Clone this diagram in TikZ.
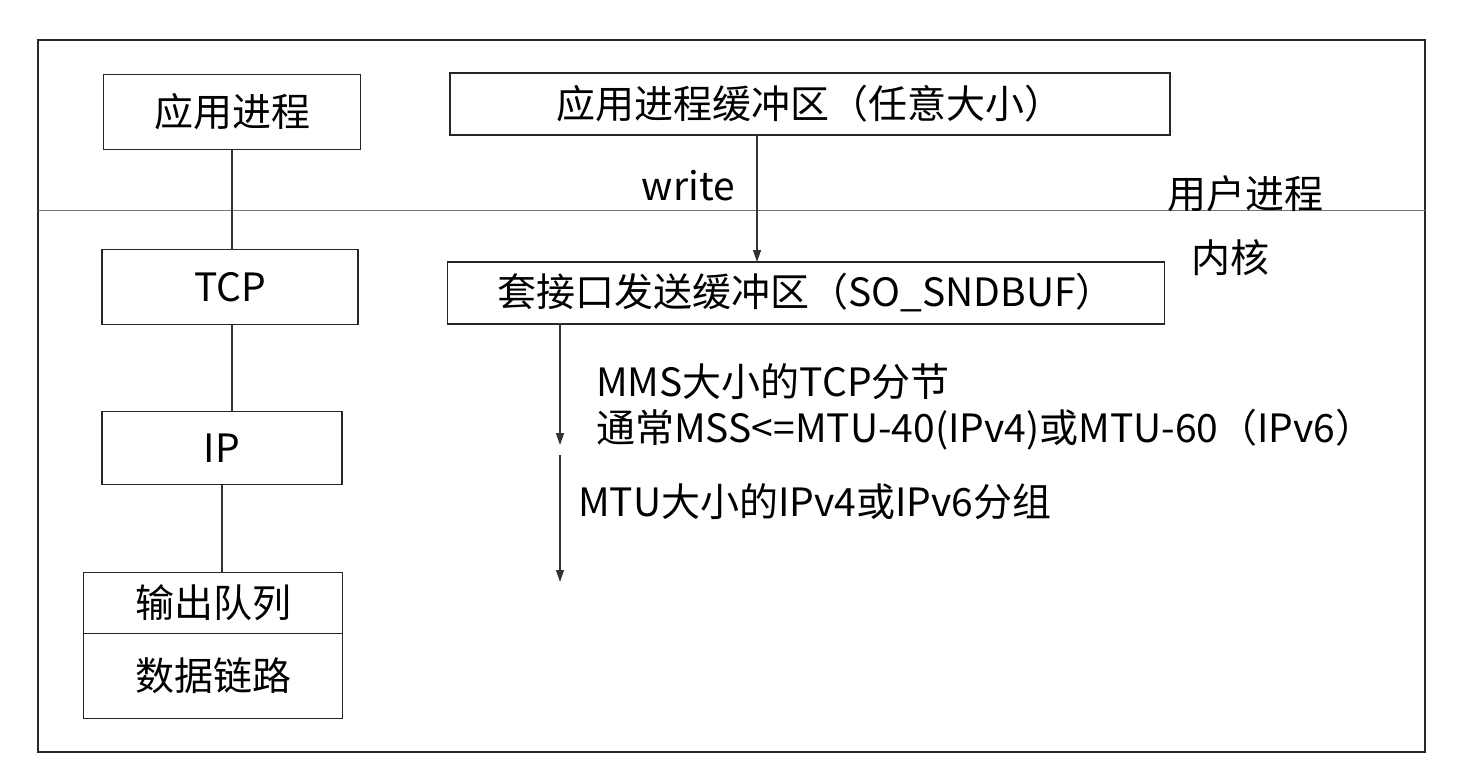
\documentclass[tikz,border=0pt]{standalone}
\usepackage{fontspec}
\setmainfont{Noto Sans CJK SC}
\usetikzlibrary{arrows.meta}
\begin{document}
\begin{tikzpicture}[x=1pt,y=-1pt,
  bx/.style={draw=black!85,line width=1.6pt,inner sep=0pt},
  lbl/.style={font=\fontsize{39}{44}\selectfont,inner sep=0pt},
  ln/.style={draw=black!80,line width=1.3pt},
  ar/.style={ln,-{Triangle[length=12pt,width=8pt]}}]
\useasboundingbox (0,0) rectangle (1467,779);
\fill[white] (0,0) rectangle (1467,779);
\draw[line width=1.8pt,black!85] (38,40) rectangle (1425,752);
\draw[line width=1pt,black!55] (38,210) -- (1425,210);
\node[bx,minimum width=257pt,minimum height=75pt,lbl] (app) at (232,112) {应用进程};
\node[bx,minimum width=256pt,minimum height=75pt,lbl] (tcp) at (230,287) {TCP};
\node[bx,minimum width=240pt,minimum height=73pt,lbl] (ip) at (222,448) {IP};
\node[bx,minimum width=259pt,minimum height=61pt,lbl] (q) at (213,603) {输出队列};
\node[bx,minimum width=259pt,minimum height=85pt,lbl] (dl) at (213,676) {数据链路};
\node[bx,minimum width=720pt,minimum height=62pt,lbl] (ab) at (810,104) {应用进程缓冲区（任意大小）};
\node[bx,minimum width=717pt,minimum height=62pt,lbl] (sb) at (806,293) {套接口发送缓冲区（SO\_SNDBUF）};
\draw[ln] (232,149.5) -- (232,249.5);
\draw[ln] (232,324.5) -- (232,411.5);
\draw[ln] (222,484.5) -- (q.north -| 222,0);
\coordinate (a1) at (757,135);
\coordinate (a2) at (757,262);
\draw[ar] (a1) -- (a2);
\node[lbl,anchor=east] (w) at (735,186) {write};
\node[lbl] (up) at (1245,194) {用户进程};
\node[lbl] (kn) at (1230,258) {内核};
\coordinate (b1) at (560,324);
\coordinate (b2) at (560,445);
\coordinate (c1) at (560,455);
\coordinate (c2) at (560,582);
\draw[ar] (b1) -- (b2);
\draw[ar] (c1) -- (c2);
\node[lbl,anchor=west] (t1) at (596,382) {MMS大小的TCP分节};
\node[lbl,anchor=west] (t2) at (596,430) {通常MSS<=MTU-40(IPv4)或MTU-60（IPv6）};
\node[lbl,anchor=west] (t3) at (578,502) {MTU大小的IPv4或IPv6分组};
\end{tikzpicture}
\end{document}
